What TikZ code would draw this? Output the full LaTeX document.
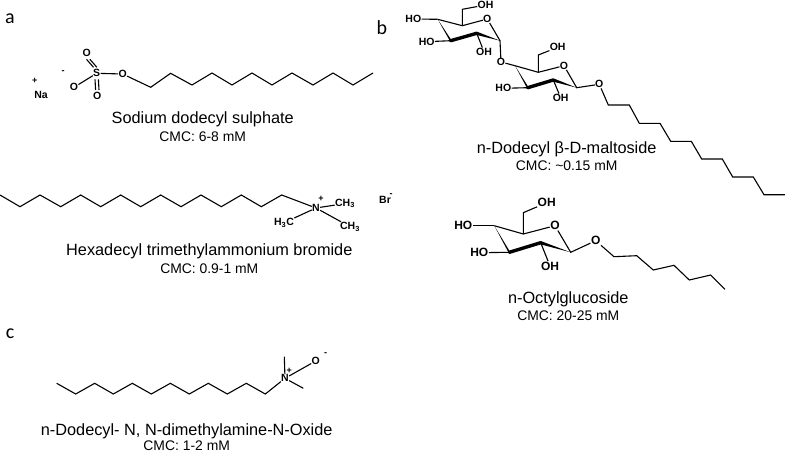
\documentclass[tikz,border=0pt]{standalone}
\usepackage{fontspec}
\setmainfont{Liberation Sans}
\newfontfamily\panelfont{Carlito}
\usetikzlibrary{calc}

% wedge bond, narrow end at #1, wide end at #2
\newcommand{\wedgebond}[2]{\fill ($(#2)+(0,-1.7)$) -- (#1) -- ($(#2)+(0,1.7)$) -- cycle;}

\begin{document}
\begin{tikzpicture}[
    x=1pt, y=-1pt,
    bond/.style={line width=1.1pt, line join=miter},
    heavybond/.style={line width=3.4pt, line cap=round},
    atom/.style={inner sep=0.2pt, font=\fontsize{10.5}{10.5}\selectfont\bfseries},
    bigatom/.style={inner sep=0.4pt, font=\fontsize{12}{12}\selectfont\bfseries},
    charge/.style={inner sep=0pt, font=\fontsize{9}{9}\selectfont\bfseries},
    title/.style={inner sep=0pt, font=\fontsize{16.3}{17}\selectfont},
    cmc/.style={inner sep=0pt, font=\fontsize{13.9}{14}\selectfont},
    panel/.style={inner sep=0pt, font=\fontsize{20}{20}\panelfont}
]
\useasboundingbox (0,0) rectangle (785,453);

% Panel letters
\node[panel] (panela) at (10,19) {a};
\node[panel] (panelb) at (382,28) {b};
\node[panel] (panelc) at (10,334) {c};

% Sodium dodecyl sulphate
\node[atom] (sdsS) at (96.7,73.3) {S};
\node[atom] (sdsOa) at (86.7,53.3) {O};
\node[atom] (sdsOb) at (74,87.3) {O};
\node[atom] (sdsOc) at (97.3,96) {O};
\node[atom] (sdsOd) at (122.7,74) {O};
\node[charge] (sdsminus) at (63,72) {-};
\node[charge] (sdsplus) at (34.7,81) {+};
\node[atom] (sdsNa) at (41,94.7) {Na};
\foreach \cx/\cy [count=\n] in {150.7/87.3, 170.6/73.3, 192/85, 212/73, 232/85, 252/73, 272/85, 292/73, 313/85, 333/73, 353/85, 373/73}
    \coordinate (sds\n) at (\cx,\cy);
\draw[bond] (sdsS) -- (sdsOb);
\draw[bond] (sdsS) -- (sdsOd);
\draw[bond] ($(sdsS)+(-3.2,-6)$) -- ($(sdsOa)+(-0.2,6)$);
\draw[bond] ($(sdsS)+(0.2,-6)$) -- ($(sdsOa)+(3.2,6)$);
\draw[bond] ($(sdsS)+(-1.7,6)$) -- ($(sdsOc)+(-1.7,-6)$);
\draw[bond] ($(sdsS)+(1.7,6)$) -- ($(sdsOc)+(1.7,-6)$);
\draw[bond] (sdsOd) -- (sds1) -- (sds2) -- (sds3) -- (sds4) -- (sds5) -- (sds6) -- (sds7) -- (sds8) -- (sds9) -- (sds10) -- (sds11) -- (sds12);
\node[title] (sdsname) at (202.7,119) {Sodium dodecyl sulphate};
\node[cmc] (sdscmc) at (202.7,136.7) {CMC: 6-8 mM};

% Hexadecyl trimethylammonium bromide
\node[atom] (ctabN) at (316,208) {N};
\node[charge] (ctabplus) at (321,199) {+};
\node[atom] (ctabMa) at (345,203.5) {CH\textsubscript{3}};
\node[atom] (ctabMb) at (284,222.7) {H\textsubscript{3}C};
\node[atom] (ctabMc) at (350,226.7) {CH\textsubscript{3}};
\node[atom] (ctabBr) at (385,199.5) {Br};
\node[charge] (ctabminus) at (391,195.5) {-};
\foreach \cx/\cy [count=\n] in {0/195, 20/206.7, 40/195, 60.7/206.7, 80.7/195, 100.7/206.7, 120.7/195, 140.7/206.7, 160.7/195, 181/206.7, 201/195, 221.3/206.7, 241.3/195, 261.3/206.7, 281.7/195}
    \coordinate (ctab\n) at (\cx,\cy);
\draw[bond] (ctab1) -- (ctab2) -- (ctab3) -- (ctab4) -- (ctab5) -- (ctab6) -- (ctab7) -- (ctab8) -- (ctab9) -- (ctab10) -- (ctab11) -- (ctab12) -- (ctab13) -- (ctab14) -- (ctab15) -- (ctabN);
\draw[bond] (ctabN) -- (ctabMa);
\draw[bond] (ctabN) -- (ctabMb);
\draw[bond] (ctabN) -- (ctabMc);
\node[title] (ctabname) at (209.3,251.7) {Hexadecyl trimethylammonium bromide};
\node[cmc] (ctabcmc) at (209.3,268.3) {CMC: 0.9-1 mM};

% n-Dodecyl N,N-dimethylamine-N-Oxide
\node[atom] (ddaoN) at (285,378.3) {N};
\node[charge] (ddaoplus) at (289.3,371) {+};
\node[atom] (ddaoO) at (315.7,361) {O};
\node[charge] (ddaominus) at (325.7,354.3) {-};
\coordinate (ddaoMa) at (284.3,356.7);
\coordinate (ddaoMb) at (303.3,388.3);
\foreach \cx/\cy [count=\n] in {56.7/383.3, 75.7/394, 94.7/383.3, 113.3/394, 132.3/383.3, 151.3/394, 170.3/383.3, 189.3/394, 208.3/383.3, 227.3/394, 246.3/383.3, 265.3/394}
    \coordinate (ddao\n) at (\cx,\cy);
\draw[bond] (ddao1) -- (ddao2) -- (ddao3) -- (ddao4) -- (ddao5) -- (ddao6) -- (ddao7) -- (ddao8) -- (ddao9) -- (ddao10) -- (ddao11) -- (ddao12) -- (ddaoN);
\draw[bond] (ddaoN) -- (ddaoMa);
\draw[bond] (ddaoN) -- (ddaoMb);
\draw[bond] (ddaoN) -- (ddaoO);
\node[title] (ddaoname) at (186.7,431.7) {n-Dodecyl- N, N-dimethylamine-N-Oxide};
\node[cmc] (ddaocmc) at (186.7,445.5) {CMC: 1-2 mM};

% n-Dodecyl maltoside, first ring
\node[atom] (maOa) at (487.3,19) {O};
\coordinate (maAc4) at (437.7,19.3);
\coordinate (maAc5) at (462.3,25.7);
\coordinate (maAc1) at (500,40.7);
\coordinate (maAc2) at (476.7,33.3);
\coordinate (maAc3) at (450.7,40.7);
\coordinate (maAc6) at (462.3,9.3);
\node[atom] (maHOa) at (413.3,19) {HO};
\node[atom] (maHOb) at (426.7,41.7) {HO};
\node[atom] (maOHa) at (484,51.7) {OH};
\node[atom] (maOHb) at (485.5,5) {OH};
\node[atom] (maOl) at (501,62) {O};
\wedgebond{maAc4}{maAc3}
\wedgebond{maAc1}{maAc2}
\draw[heavybond] (maAc3) -- (maAc2);
\draw[bond] (maAc3) -- (maHOb);
\draw[bond] (maAc4) -- (maHOa);
\draw[bond] (maAc4) -- (maAc5) -- (maOa) -- (maAc1) -- (maOl);
\draw[bond] (maAc2) -- (maOHa);
\draw[bond] (maAc5) -- (maAc6) -- (maOHb);

% second ring
\node[atom] (maOb) at (564,65.7) {O};
\coordinate (maBc4) at (515,65.7);
\coordinate (maBc5) at (538.3,72.3);
\coordinate (maBc1) at (576.7,87.7);
\coordinate (maBc2) at (553.3,80);
\coordinate (maBc3) at (527.7,87.7);
\coordinate (maBc6) at (538.3,55);
\node[atom] (maHOc) at (503.3,88.3) {HO};
\node[atom] (maOHc) at (560.7,97.7) {OH};
\node[atom] (maOHd) at (557.7,47.3) {OH};
\node[atom] (maOc) at (599.3,84.3) {O};
\wedgebond{maBc4}{maBc3}
\wedgebond{maBc1}{maBc2}
\draw[heavybond] (maBc3) -- (maBc2);
\draw[bond] (maOl) -- (maBc4) -- (maBc5) -- (maOb) -- (maBc1) -- (maOc);
\draw[bond] (maBc3) -- (maHOc);
\draw[bond] (maBc2) -- (maOHc);
\draw[bond] (maBc5) -- (maBc6) -- (maOHd);
\foreach \cx/\cy [count=\n] in {608.3/105, 629.3/105, 639.3/123.3, 660/123.3, 670.7/141.3, 691.3/141.3, 701.7/159, 722.3/159, 732.7/177, 753.3/177, 764/194.7, 785/194.7}
    \coordinate (ma\n) at (\cx,\cy);
\draw[bond] (maOc) -- (ma1) -- (ma2) -- (ma3) -- (ma4) -- (ma5) -- (ma6) -- (ma7) -- (ma8) -- (ma9) -- (ma10) -- (ma11) -- (ma12);
\node[title] (maname) at (566.7,149) {n-Dodecyl β-D-maltoside};
\node[cmc] (macmc) at (566.7,166) {CMC: \textasciitilde0.15 mM};

% n-Octylglucoside
\node[bigatom] (ogO) at (555,225.7) {O};
\coordinate (ogc4) at (494.3,225.7);
\coordinate (ogc5) at (523.3,234);
\coordinate (ogc1) at (570.7,252.3);
\coordinate (ogc2) at (540.7,242.7);
\coordinate (ogc3) at (509.3,252.3);
\coordinate (ogc6) at (523.3,212.7);
\node[bigatom] (ogHOa) at (463.3,225.7) {HO};
\node[bigatom] (ogHOb) at (479.3,252.7) {HO};
\node[bigatom] (ogOHa) at (550,266) {OH};
\node[bigatom] (ogOHb) at (546.7,202.7) {OH};
\node[bigatom] (ogOc) at (595.7,240.7) {O};
\wedgebond{ogc4}{ogc3}
\wedgebond{ogc1}{ogc2}
\draw[heavybond] (ogc3) -- (ogc2);
\draw[bond] (ogc4) -- (ogc5) -- (ogO) -- (ogc1) -- (ogOc);
\draw[bond] (ogc4) -- (ogHOa);
\draw[bond] (ogc3) -- (ogHOb);
\draw[bond] (ogc2) -- (ogOHa);
\draw[bond] (ogc5) -- (ogc6) -- (ogOHb);
\foreach \cx/\cy [count=\n] in {614/256.7, 636.7/255.7, 653.3/270, 674/265.3, 689.3/280, 710.7/275, 725/289.3}
    \coordinate (og\n) at (\cx,\cy);
\draw[bond] (ogOc) -- (og1) -- (og2) -- (og3) -- (og4) -- (og5) -- (og6) -- (og7);
\node[title] (ogname) at (568.3,299.3) {n-Octylglucoside};
\node[cmc] (ogcmc) at (568.3,316) {CMC: 20-25 mM};

\end{tikzpicture}
\end{document}
